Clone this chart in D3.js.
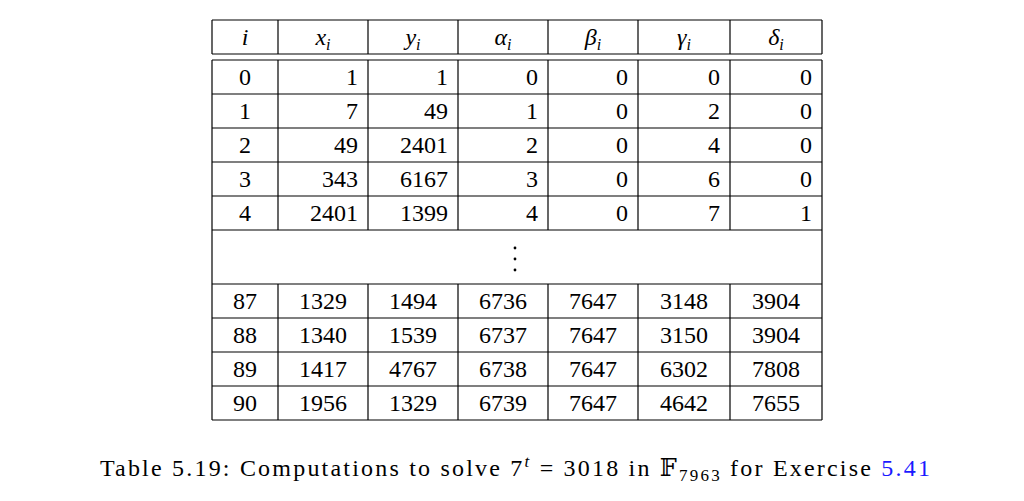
<!DOCTYPE html>
<html><head><meta charset="utf-8">
<script src="https://cdn.jsdelivr.net/npm/d3@7"></script>
<style>body{margin:0;background:#fff}text{font-family:"Liberation Serif","DejaVu Serif",serif;fill:#000}</style>
</head><body><svg id="c" width="1024" height="501"></svg>
<script>
const headers=[["i",""],["x","i"],["y","i"],["α","i"],["β","i"],["γ","i"],["δ","i"]];
const topRows=[[0,1,1,0,0,0,0],[1,7,49,1,0,2,0],[2,49,2401,2,0,4,0],[3,343,6167,3,0,6,0],[4,2401,1399,4,0,7,1]];
const bottomRows=[[87,1329,1494,6736,7647,3148,3904],[88,1340,1539,6737,7647,3150,3904],[89,1417,4767,6738,7647,6302,7808],[90,1956,1329,6739,7647,4642,7655]];
const colEdges=[212,278,368,458,548,638,730,822];
const svg=d3.select("#c");
const line=(x1,y1,x2,y2)=>svg.append("line").attr("x1",x1).attr("y1",y1).attr("x2",x2).attr("y2",y2).attr("stroke","#000").attr("stroke-width",1.2);
const L=colEdges[0],R=colEdges[7],rh=34;
line(L,20,R,20);line(L,54,R,54);
colEdges.forEach(e=>line(e,20,e,54));
const fs=24;
headers.forEach((h,j)=>{const t=svg.append("text").attr("x",(colEdges[j]+colEdges[j+1])/2).attr("y",45).attr("text-anchor","middle").attr("font-size",fs).attr("font-style","italic");
 t.append("tspan").text(h[0]);if(h[1])t.append("tspan").attr("font-size",16).attr("dy",5).text(h[1]);});
const y0=60;
line(L,y0,R,y0);
topRows.forEach((r,i)=>{const yb=y0+(i+1)*rh;line(L,yb,R,yb);
 r.forEach((v,j)=>{svg.append("text").attr("font-size",fs).attr("y",yb-9)
  .attr("x",j==0?(colEdges[0]+colEdges[1])/2:colEdges[j+1]-10).attr("text-anchor",j==0?"middle":"end").text(v);});});
const yTopEnd=y0+topRows.length*rh;
colEdges.forEach(e=>line(e,y0,e,yTopEnd));
const yGapEnd=yTopEnd+54;
line(L,yTopEnd,L,yGapEnd);line(R,yTopEnd,R,yGapEnd);
[248,259,270].forEach(yy=>svg.append("circle").attr("cx",515).attr("cy",yy).attr("r",1.4).attr("fill","#000"));
line(L,yGapEnd,R,yGapEnd);
bottomRows.forEach((r,i)=>{const yb=yGapEnd+(i+1)*rh;line(L,yb,R,yb);
 r.forEach((v,j)=>{svg.append("text").attr("font-size",fs).attr("y",yb-9).attr("x",(colEdges[j]+colEdges[j+1])/2).attr("text-anchor","middle").text(v);});});
colEdges.forEach(e=>line(e,yGapEnd,e,yGapEnd+bottomRows.length*rh));
const cap=svg.append("text").attr("x",516).attr("y",476).attr("text-anchor","middle").attr("font-size",24).attr("letter-spacing",2.2);
cap.append("tspan").text("Table 5.19: Computations to solve 7");
cap.append("tspan").attr("font-style","italic").attr("font-size",17).attr("dy",-9).text("t");
cap.append("tspan").attr("dy",9).text(" = 3018 in 𝔽");
cap.append("tspan").attr("font-size",17).attr("dy",5).text("7963");
cap.append("tspan").attr("dy",-5).text(" for Exercise ");
cap.append("tspan").style("fill","#1a1aff").text("5.41");
</script></body></html>
